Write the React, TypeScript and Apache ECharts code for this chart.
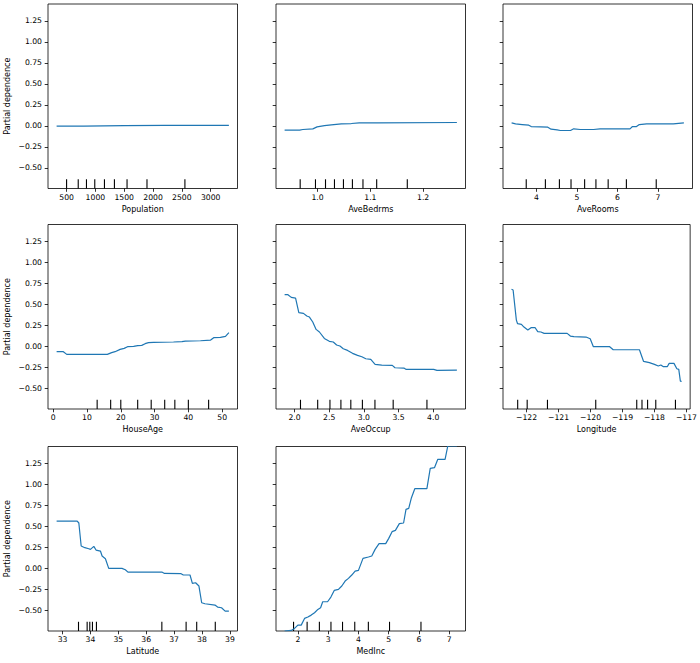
import React, { useEffect, useRef } from 'react';
import * as echarts from 'echarts';

const FONT = 'DejaVu Sans';
const LINE_COLOR = '#1f77b4';
const INK = '#000';

// Shared partial-dependence range for every panel
const Y_MIN = -0.745;
const Y_MAX = 1.45;
const yTickValues = [-0.5, -0.25, 0, 0.25, 0.5, 0.75, 1.0, 1.25];

// Population
const populationX = [327, 800, 1500, 2200, 3316];
const populationY = [-0.004, -0.002, 0.002, 0.005, 0.007];
const populationDeciles = [500, 702, 845, 989, 1157, 1330, 1549, 1895, 2553];
const populationTicks = [500, 1000, 1500, 2000, 2500, 3000];

// AveBedrms
const aveBedrmsX = [0.9375, 0.966, 0.972, 0.991, 0.999, 1.013, 1.026, 1.045, 1.064, 1.079, 1.114, 1.264];
const aveBedrmsY = [-0.051, -0.051, -0.043, -0.036, -0.012, 0.002, 0.012, 0.024, 0.028, 0.036, 0.036, 0.04];
const aveBedrmsDeciles = [0.967, 0.996, 1.015, 1.032, 1.049, 1.066, 1.086, 1.112, 1.17];
const aveBedrmsTicks = [1.0, 1.1, 1.2];

// AveRooms
const aveRoomsX = [3.386, 3.484, 3.648, 3.81, 3.87, 4.098, 4.28, 4.36, 4.51, 4.59, 4.84, 4.92, 5.08, 5.41, 5.57, 6.31, 6.37, 6.47, 6.54, 6.72, 7.38, 7.64];
const aveRoomsY = [0.036, 0.024, 0.016, 0.008, -0.008, -0.012, -0.016, -0.039, -0.047, -0.055, -0.055, -0.035, -0.043, -0.043, -0.035, -0.035, -0.008, -0.008, 0.016, 0.024, 0.024, 0.036];
const aveRoomsDeciles = [3.747, 4.22, 4.566, 4.853, 5.189, 5.468, 5.77, 6.22, 6.957];
const aveRoomsTicks = [4, 5, 6, 7];

// HouseAge
const houseAgeX = [1, 3, 4, 16, 17.3, 18.3, 19.8, 21, 22, 23.8, 25, 26.2, 27.2, 28.2, 29.7, 35.6, 38.1, 39.1, 43.6, 46.6, 47.5, 49.5, 51, 52];
const houseAgeY = [-0.063, -0.063, -0.095, -0.095, -0.075, -0.063, -0.036, -0.024, -0.004, 0.0, 0.008, 0.012, 0.032, 0.044, 0.048, 0.052, 0.056, 0.063, 0.067, 0.075, 0.103, 0.107, 0.119, 0.163];
const houseAgeDeciles = [13, 17, 20, 25, 29, 33, 36, 40, 46];
const houseAgeTicks = [0, 10, 20, 30, 40, 50];

// AveOccup
const aveOccupX = [1.857, 1.905, 1.953, 2.015, 2.062, 2.129, 2.177, 2.215, 2.263, 2.311, 2.359, 2.43, 2.502, 2.559, 2.607, 2.655, 2.703, 2.765, 2.837, 2.909, 2.971, 3.028, 3.1, 3.162, 3.258, 3.41, 3.449, 3.578, 3.611, 4.007, 4.055, 4.342];
const aveOccupY = [0.615, 0.615, 0.583, 0.575, 0.401, 0.393, 0.361, 0.349, 0.29, 0.202, 0.171, 0.095, 0.06, 0.052, 0.016, 0.004, -0.028, -0.048, -0.083, -0.107, -0.123, -0.147, -0.155, -0.214, -0.222, -0.226, -0.254, -0.258, -0.274, -0.274, -0.286, -0.282];
const aveOccupDeciles = [2.086, 2.334, 2.511, 2.669, 2.812, 2.979, 3.16, 3.423, 3.91];
const aveOccupTicks = [2.0, 2.5, 3.0, 3.5, 4.0];

// Longitude
const longitudeX = [-122.47, -122.42, -122.318, -122.28, -122.16, -122.08, -121.96, -121.86, -121.73, -121.65, -121.55, -121.45, -120.73, -120.63, -120.52, -120.14, -120.01, -119.91, -119.4, -119.29, -118.47, -118.34, -118.16, -118.0, -117.88, -117.8, -117.72, -117.6, -117.54, -117.39, -117.3, -117.24, -117.19, -117.15];
const longitudeY = [0.679, 0.671, 0.313, 0.27, 0.262, 0.23, 0.194, 0.222, 0.222, 0.175, 0.171, 0.155, 0.155, 0.123, 0.115, 0.111, 0.091, -0.004, -0.004, -0.04, -0.04, -0.179, -0.194, -0.214, -0.234, -0.222, -0.242, -0.242, -0.202, -0.202, -0.266, -0.274, -0.413, -0.417];
const longitudeDeciles = [-122.277, -121.98, -121.346, -119.836, -118.554, -118.39, -118.215, -117.959, -117.344];
const longitudeTicks = [-122, -121, -120, -119, -118, -117];

// Latitude
const latitudeX = [32.786, 33.524, 33.583, 33.667, 33.798, 33.94, 34.0, 34.12, 34.2, 34.357, 34.417, 34.536, 34.655, 35.13, 35.25, 35.345, 36.56, 36.655, 37.25, 37.33, 37.57, 37.655, 37.77, 37.89, 37.988, 38.107, 38.464, 38.56, 38.7, 38.83, 38.964];
const latitudeY = [0.563, 0.563, 0.54, 0.266, 0.246, 0.234, 0.226, 0.262, 0.218, 0.206, 0.147, 0.115, 0.0, 0.0, -0.016, -0.044, -0.044, -0.06, -0.063, -0.079, -0.079, -0.179, -0.171, -0.21, -0.409, -0.421, -0.437, -0.46, -0.468, -0.508, -0.508];
const latitudeDeciles = [33.571, 33.881, 33.976, 34.071, 34.214, 36.56, 37.43, 37.81, 38.476];
const latitudeTicks = [33, 34, 35, 36, 37, 38, 39];

// MedInc
const medIncX = [1.562, 1.78, 1.89, 2.0, 2.11, 2.22, 2.33, 2.44, 2.55, 2.66, 2.75, 2.82, 2.98, 3.09, 3.2, 3.34, 3.45, 3.56, 3.67, 3.78, 3.89, 4.0, 4.15, 4.33, 4.44, 4.55, 4.68, 4.9, 5.0, 5.11, 5.22, 5.35, 5.49, 5.57, 5.66, 5.75, 5.86, 6.26, 6.37, 6.51, 6.62, 6.86, 6.95, 7.25];
const medIncY = [-0.745, -0.738, -0.714, -0.675, -0.675, -0.595, -0.579, -0.556, -0.528, -0.488, -0.468, -0.397, -0.397, -0.341, -0.262, -0.25, -0.21, -0.151, -0.119, -0.079, -0.032, -0.024, 0.119, 0.135, 0.147, 0.226, 0.294, 0.294, 0.357, 0.437, 0.452, 0.532, 0.54, 0.702, 0.714, 0.841, 0.948, 0.948, 1.19, 1.198, 1.298, 1.298, 1.456, 1.456];
const medIncDeciles = [1.857, 2.305, 2.71, 3.092, 3.474, 3.878, 4.327, 5.026, 6.064];
const medIncTicks = [2, 3, 4, 5, 6, 7];

type Panel = {
  feature: string;
  xs: number[];
  ys: number[];
  deciles: number[];
  ticks: number[];
  digits: number;
};

const panels: Panel[] = [
  { feature: 'Population', xs: populationX, ys: populationY, deciles: populationDeciles, ticks: populationTicks, digits: 0 },
  { feature: 'AveBedrms', xs: aveBedrmsX, ys: aveBedrmsY, deciles: aveBedrmsDeciles, ticks: aveBedrmsTicks, digits: 1 },
  { feature: 'AveRooms', xs: aveRoomsX, ys: aveRoomsY, deciles: aveRoomsDeciles, ticks: aveRoomsTicks, digits: 0 },
  { feature: 'HouseAge', xs: houseAgeX, ys: houseAgeY, deciles: houseAgeDeciles, ticks: houseAgeTicks, digits: 0 },
  { feature: 'AveOccup', xs: aveOccupX, ys: aveOccupY, deciles: aveOccupDeciles, ticks: aveOccupTicks, digits: 1 },
  { feature: 'Longitude', xs: longitudeX, ys: longitudeY, deciles: longitudeDeciles, ticks: longitudeTicks, digits: 0 },
  { feature: 'Latitude', xs: latitudeX, ys: latitudeY, deciles: latitudeDeciles, ticks: latitudeTicks, digits: 0 },
  { feature: 'MedInc', xs: medIncX, ys: medIncY, deciles: medIncDeciles, ticks: medIncTicks, digits: 0 },
];

const COL_LEFT = [48, 276, 503];
const ROW_TOP = [4, 224.5, 446.5];
const CELL_W = 189.5;
const CELL_H = 184.5;

const fmt = (v: number, digits: number) =>
  (v < 0 ? '\u2212' : '') + Math.abs(v).toFixed(digits);

function buildOption() {
  const grid: any[] = [];
  const xAxis: any[] = [];
  const yAxis: any[] = [];
  const series: any[] = [];

  panels.forEach((p, i) => {
    const col = i % 3;
    const row = Math.floor(i / 3);
    grid.push({
      left: COL_LEFT[col],
      top: ROW_TOP[row],
      width: CELL_W,
      height: CELL_H,
      show: true,
      borderColor: INK,
      borderWidth: 0.8,
      backgroundColor: 'transparent',
    });

    // 5% padding on each side of the evaluated grid
    const lo = p.xs[0];
    const hi = p.xs[p.xs.length - 1];
    const pad = (hi - lo) * 0.05;

    xAxis.push({
      type: 'value',
      gridIndex: i,
      position: 'bottom',
      min: lo - pad,
      max: hi + pad,
      name: p.feature,
      nameLocation: 'middle',
      nameGap: 16.5,
      nameTextStyle: { fontFamily: FONT, fontSize: 8, color: INK },
      axisLine: { show: false, onZero: false },
      splitLine: { show: false },
      axisTick: {
        show: true,
        inside: false,
        length: 3.3,
        customValues: p.ticks,
        lineStyle: { color: INK, width: 0.8 },
      },
      axisLabel: {
        show: true,
        customValues: p.ticks,
        margin: 4.5,
        fontFamily: FONT,
        fontSize: 7.7,
        color: INK,
        formatter: (v: number) => fmt(v, p.digits),
      },
    });

    yAxis.push({
      type: 'value',
      gridIndex: i,
      position: 'left',
      min: Y_MIN,
      max: Y_MAX,
      name: col === 0 ? 'Partial dependence' : '',
      nameLocation: 'middle',
      nameRotate: 90,
      nameGap: 36.5,
      nameTextStyle: { fontFamily: FONT, fontSize: 8, color: INK },
      axisLine: { show: false, onZero: false },
      splitLine: { show: false },
      axisTick: {
        show: true,
        inside: false,
        length: 3.3,
        customValues: yTickValues,
        lineStyle: { color: INK, width: 0.8 },
      },
      axisLabel: {
        show: col === 0,
        customValues: yTickValues,
        margin: 6,
        fontFamily: FONT,
        fontSize: 7.7,
        color: INK,
        formatter: (v: number) => fmt(v, 2),
      },
    });

    series.push({
      type: 'line',
      xAxisIndex: i,
      yAxisIndex: i,
      data: p.xs.map((x, k) => [x, p.ys[k]]),
      showSymbol: false,
      symbol: 'none',
      smooth: false,
      clip: true,
      lineStyle: { color: LINE_COLOR, width: 1.2 },
      silent: true,
    });

    // Decile rug marks along the bottom 5% of each panel
    series.push({
      type: 'custom',
      xAxisIndex: i,
      yAxisIndex: i,
      data: p.deciles.map((d) => [d, Y_MIN]),
      encode: { x: 0, y: 1 },
      silent: true,
      renderItem: (_params: any, api: any) => {
        const x = api.value(0);
        const a = api.coord([x, Y_MIN]);
        const b = api.coord([x, Y_MIN + 0.05 * (Y_MAX - Y_MIN)]);
        return {
          type: 'line',
          shape: { x1: a[0], y1: a[1], x2: b[0], y2: b[1] },
          style: { stroke: INK, lineWidth: 1.1 },
        };
      },
    });
  });

  return {
    animation: false,
    backgroundColor: '#fff',
    textStyle: { fontFamily: FONT },
    grid,
    xAxis,
    yAxis,
    series,
  };
}

export default function App() {
  const ref = useRef<HTMLDivElement>(null);

  useEffect(() => {
    if (!ref.current) return;
    const chart = echarts.init(ref.current, null, { renderer: 'svg' });
    chart.setOption(buildOption());
    return () => chart.dispose();
  }, []);

  return (
    <div
      ref={ref}
      style={{ position: 'absolute', left: 0, top: 0, width: 700, height: 663, background: '#fff' }}
    />
  );
}
